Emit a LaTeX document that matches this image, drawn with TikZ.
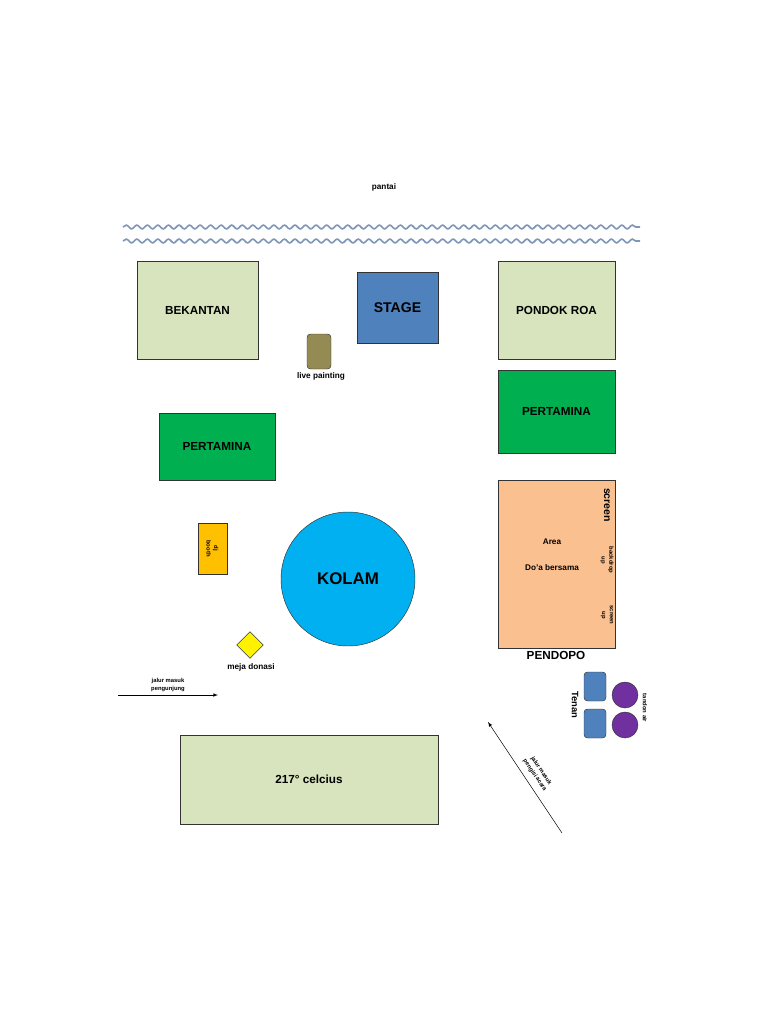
\documentclass[tikz,border=0pt]{standalone}
\usepackage{fontspec}
\setmainfont{Liberation Sans}
\usetikzlibrary{shapes.geometric,decorations.pathmorphing}
\definecolor{sage}{HTML}{D7E4BD}
\definecolor{stageblue}{HTML}{4F81BD}
\definecolor{pertgreen}{HTML}{00B050}
\definecolor{olive}{HTML}{948A54}
\definecolor{pool}{HTML}{00B0F0}
\definecolor{peach}{HTML}{FAC090}
\definecolor{amber}{HTML}{FFC000}
\definecolor{tank}{HTML}{7030A0}
\definecolor{wave}{HTML}{7F96B8}
\tikzset{
  area/.style={draw=black!80, font=\bfseries},
  lbl/.style={font=\bfseries\scriptsize},
  tiny/.style={font=\bfseries\fontsize{5}{6.5}\selectfont, align=center},
  waveline/.style={wave, line width=1.4pt, decorate, decoration={snake, amplitude=1.6pt, segment length=9pt}}
}
\begin{document}
\begin{tikzpicture}[x=0.03cm, y=-0.03cm]
\useasboundingbox (0,0) rectangle (768,1024);
% beach
\node[lbl] (pantai) at (384,187) {pantai};
\draw[waveline] (123,227) -- (640,227);
\draw[waveline] (123,241) -- (640,241);
% top row
\draw[area, fill=sage] (137,261) rectangle (258,359) node[midway] (bekantan) {BEKANTAN};
\draw[area, fill=stageblue] (357,272) rectangle (438,343) node[midway] (stage) {\large STAGE};
\draw[area, fill=sage] (498,261) rectangle (615,359) node[midway] (roa) {PONDOK ROA};
\draw[area, fill=pertgreen] (498,370) rectangle (615,453) node[midway] (pertR) {PERTAMINA};
\draw[area, fill=olive, rounded corners=3pt] (307,334) rectangle (331,369);
\node[lbl] (live) at (321,376) {live painting};
% left side
\draw[area, fill=pertgreen] (159,413) rectangle (275,480) node[midway] (pertL) {PERTAMINA};
\draw[area, fill=amber] (198,523) rectangle (227,574) node[midway, rotate=-90, tiny] (dj) {dj\\booth};
\node[area, circle, fill=pool, minimum size=134*0.03cm] (kolam) at (348,579) {\Large KOLAM};
\node[area, diamond, fill=yellow, minimum size=0.8cm, inner sep=0pt] (donasi) at (250,645) {};
\node[lbl] (donasilbl) at (251,667) {meja donasi};
\coordinate (inA) at (118,695);
\coordinate (inB) at (218,695);
\draw[-latex] (inA) -- (inB);
\node[tiny] (inlbl) at (168,685) {jalur masuk\\pengunjung};
% pendopo
\draw[area, fill=peach] (498,480) rectangle (615,648);
\node[lbl] (areat) at (552,542) {Area};
\node[lbl] (doa) at (552,568) {Do'a bersama};
\node[font=\bfseries\small, rotate=-90] (screen) at (607,505) {screen};
\node[tiny, rotate=-90] (back1) at (607,560) {backdrop\\up};
\node[tiny, rotate=-90] (back2) at (607,615) {screen\\up};
\node[font=\bfseries] (pendopo) at (556,655) {PENDOPO};
% tenan and tanks
\draw[area, fill=stageblue, rounded corners=3pt] (584,672) rectangle (606,701);
\draw[area, fill=stageblue, rounded corners=3pt] (584,709) rectangle (606,738);
\node[font=\bfseries\footnotesize, rotate=-90] (tenan) at (575,705) {Tenan};
\node[area, circle, fill=tank, minimum size=0.78cm] (t1) at (625,695) {};
\node[area, circle, fill=tank, minimum size=0.78cm] (t2) at (625,725) {};
\node[tiny, rotate=-90] (tandon) at (645,708) {tandon air};
% side entrance
\coordinate (sA) at (562,833);
\coordinate (sB) at (488,722);
\draw[-latex] (sA) -- (sB);
\node[tiny, rotate=-56] (slbl) at (538,773) {jalur masuk\\pengisi acara};
% bottom
\draw[area, fill=sage] (180,735) rectangle (438,824) node[midway] (celcius) {217° celcius};
\end{tikzpicture}
\end{document}
